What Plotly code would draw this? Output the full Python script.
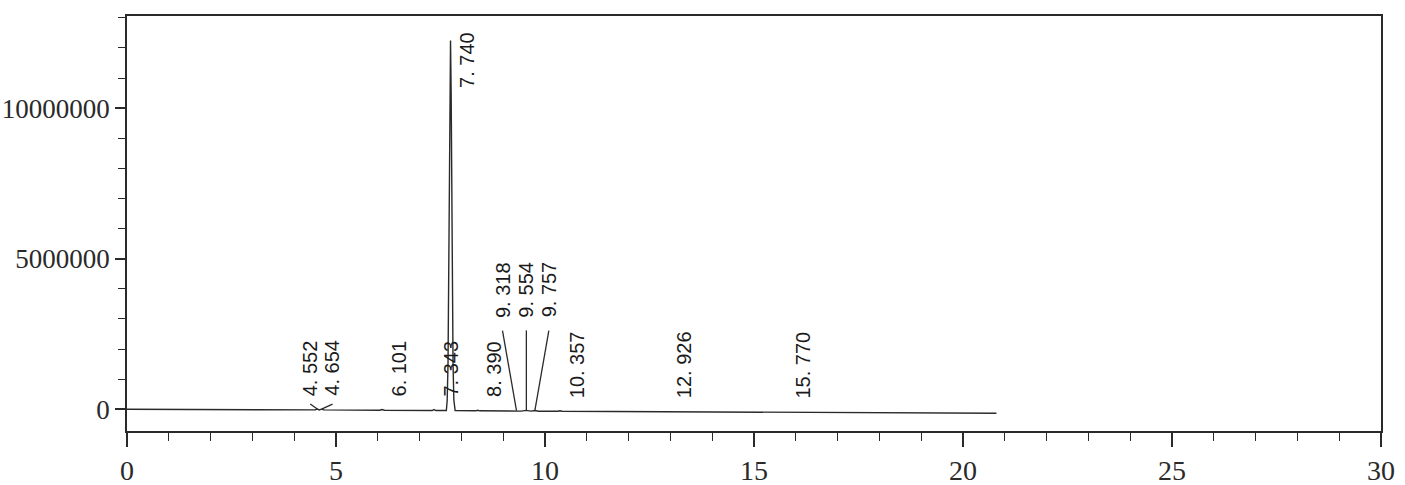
import plotly.graph_objects as go

# ---- data ----
time_min = [0.00, 4.50, 4.552, 4.60, 4.654, 4.71, 6.05, 6.101, 6.16, 7.30, 7.343, 7.39,
            7.64, 7.66, 7.68, 7.705, 7.725, 7.74, 7.755, 7.775, 7.80, 7.82, 7.85,
            8.34, 8.390, 8.44, 9.27, 9.318, 9.43, 9.554, 9.66, 9.757, 9.85,
            10.31, 10.357, 10.41, 12.87, 12.926, 12.98, 15.71, 15.770, 15.83, 20.80]
signal = [0, -20000, 10000, -20000, 5000, -20000, -30000, -5000, -30000, -40000, -10000, -40000,
          -40000, 300000, 1500000, 6000000, 10500000, 12250000, 10500000, 6000000, 1500000, 300000, -45000,
          -50000, -30000, -50000, -60000, -40000, -60000, -35000, -60000, -40000, -65000,
          -65000, -50000, -65000, -80000, -70000, -80000, -95000, -85000, -95000, -130000]

peak_rt = [4.552, 4.654, 6.101, 7.343, 7.740, 8.390, 9.318, 9.554, 9.757, 10.357, 12.926, 15.770]
peak_labels = ["4. 552", "4. 654", "6. 101", "7. 343", "7. 740", "8. 390",
               "9. 318", "9. 554", "9. 757", "10. 357", "12. 926", "15. 770"]

x_ticks = [0, 5, 10, 15, 20, 25, 30]
y_ticks = [0, 5000000, 10000000]
y_tick_text = ["0", "5000000", "10000000"]

# ---- label placement (pixels) ----
DEFAULT_DX = 17
DEFAULT_DY = 11
# crowded peaks: (label dx px, label dy px above baseline, leader length px)
leader = {
    "4. 552": (-7, 11, 5),
    "4. 654": (11, 11, 5),
    "9. 318": (-14, 91, 80),
    "9. 554": (0, 91, 80),
    "9. 757": (14, 91, 80),
}

INK = "#2a2a2a"
LABEL_FONT = dict(family="Liberation Sans", size=20, color="#1a1a1a")
fig = go.Figure()
fig.add_trace(go.Scatter(x=time_min, y=signal, mode="lines",
                         line=dict(color=INK, width=1.4), hoverinfo="skip"))

height_at = dict(zip(time_min, signal))
annotations = []
shapes = []
for rt, lab in zip(peak_rt, peak_labels):
    h = height_at.get(rt, 0)
    if lab in leader:
        dx, dy, ln = leader[lab]
        annotations.append(dict(x=rt, y=h, xref="x", yref="y", text=lab, showarrow=False,
                                textangle=-90, xanchor="center", yanchor="bottom",
                                xshift=dx, yshift=dy, font=LABEL_FONT))
        shapes.append(dict(type="line", xref="x", yref="y",
                           xsizemode="pixel", xanchor=rt, x0=0, x1=dx,
                           ysizemode="pixel", yanchor=h, y0=0, y1=ln,
                           line=dict(color=INK, width=1.3)))
    elif h > 5000000:
        annotations.append(dict(x=rt, y=h, xref="x", yref="y", text=lab, showarrow=False,
                                textangle=-90, xanchor="center", yanchor="top",
                                xshift=DEFAULT_DX, yshift=10, font=LABEL_FONT))
    else:
        annotations.append(dict(x=rt, y=h, xref="x", yref="y", text=lab, showarrow=False,
                                textangle=-90, xanchor="center", yanchor="bottom",
                                xshift=DEFAULT_DX, yshift=DEFAULT_DY, font=LABEL_FONT))

fig.update_layout(
    width=1405, height=485,
    margin=dict(l=127, r=24, t=16, b=54),
    paper_bgcolor="white", plot_bgcolor="white",
    showlegend=False,
    annotations=annotations, shapes=shapes,
    xaxis=dict(range=[0, 30], tickvals=x_ticks, ticks="outside", ticklen=14, tickwidth=1.5,
               tickcolor=INK, showline=True, linecolor=INK, linewidth=1.6, mirror=True,
               showgrid=False, zeroline=False, automargin=False,
               tickfont=dict(family="Liberation Serif", size=28, color=INK),
               minor=dict(dtick=1, ticks="outside", ticklen=8, tickwidth=1.3, tickcolor=INK)),
    yaxis=dict(range=[-720000, 13060000], tickvals=y_ticks, ticktext=y_tick_text,
               ticks="outside", ticklen=10, tickwidth=1.5, tickcolor=INK,
               showline=True, linecolor=INK, linewidth=1.6, mirror=True,
               showgrid=False, zeroline=False, automargin=False,
               tickfont=dict(family="Liberation Serif", size=27, color=INK),
               minor=dict(dtick=1000000, ticks="outside", ticklen=7, tickwidth=1.3, tickcolor=INK)),
)

fig.write_html("out.html", config={"displayModeBar": False},
               post_script="document.body.style.margin='0';document.body.style.overflow='hidden';")
